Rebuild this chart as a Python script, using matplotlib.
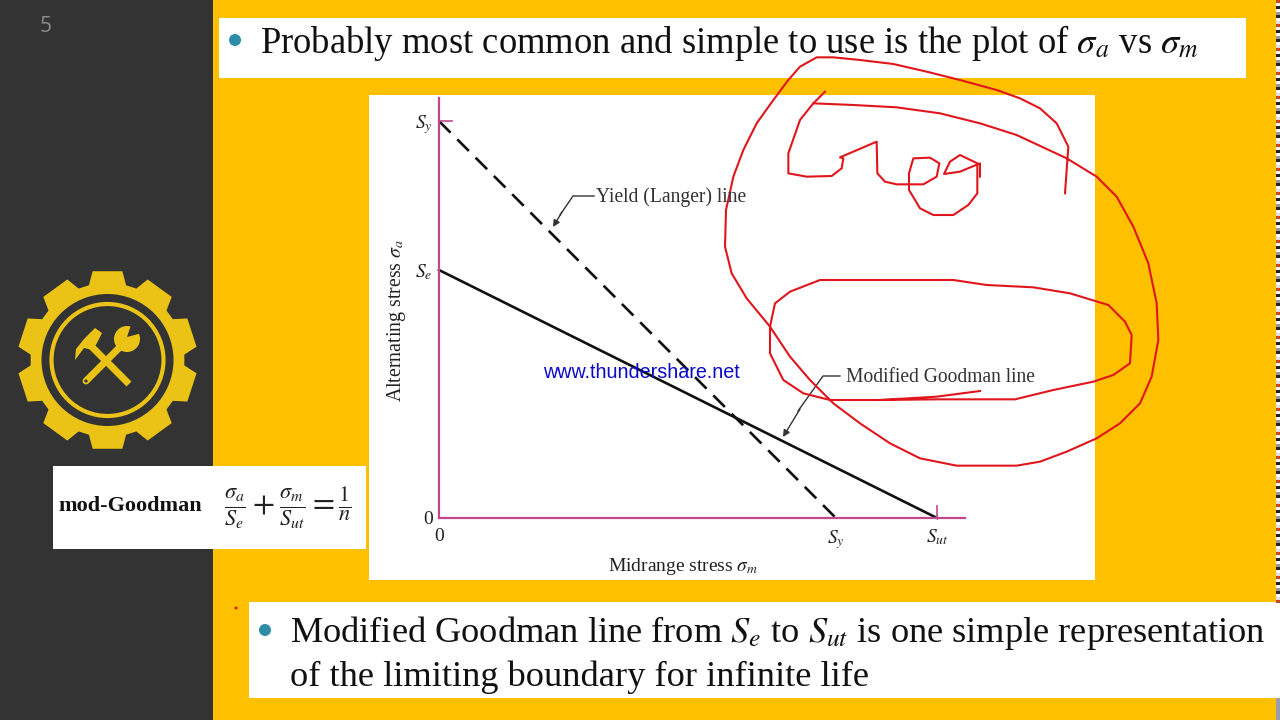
import numpy as np
import matplotlib
matplotlib.use("Agg")
import matplotlib.pyplot as plt
from matplotlib.patches import Rectangle, Circle, Polygon

plt.rcParams['font.family'] = ['Liberation Serif', 'DejaVu Sans']
plt.rcParams['mathtext.fontset'] = 'stix'

# stresses as a fraction of Sut
Sut = 1.0
Sy = 0.797
Se = 0.498
x_ticks = [0, Sy, Sut]
x_tick_labels = ['0', '$S_y$', '$S_{ut}$']
y_ticks = [0, Se, Sy]
y_tick_labels = ['0', '$S_e$', '$S_y$']
goodman_x = [0, Sut]
goodman_y = [Se, 0]
yield_x = [0, Sy]
yield_y = [Sy, 0]

# pen strokes, read in zoom pixels of the crop starting at (720, 50), 3x
stroke_big = [(1035,430),(1045,290),(1010,220),(960,175),(900,145),(830,120),(720,90),(620,65),(520,42),
              (420,30),(340,22),(290,22),(240,50),(205,90),(160,150),(110,220),(70,300),(40,380),(18,480),
              (15,590),(35,670),(80,745),(150,830),(210,920),(270,990),(340,1060),(420,1120),(510,1180),
              (600,1225),(710,1247),(890,1247),(960,1235),(1040,1205),(1130,1165),(1200,1120),(1260,1060),
              (1295,980),(1315,870),(1310,760),(1285,640),(1240,530),(1190,440),(1130,380),(1040,325),
              (890,255),(780,220),(660,190),(530,172),(400,165),(280,160)]
stroke_word = [(315,125),(280,160),(240,210),(205,310),(205,370),(260,380),(335,378),(365,355),(370,325),
               (360,322),(470,275),(472,370),(495,395),(530,403),(610,403),(650,380),(658,340),(630,323),
               (580,325),(567,370),(567,420),(600,475),(640,495),(700,495),(745,465),(772,430),(772,340),
               (720,315),(690,335),(672,372),(720,365),(780,340),(780,380)]
stroke_loop = [(780,1023),(650,1040),(480,1050),(330,1050),(250,1030),(190,990),(150,910),(150,830),
               (165,760),(210,725),(300,690),(700,690),(800,705),(940,712),(1050,730),(1165,765),
               (1215,815),(1235,855),(1230,940),(1180,975),(1120,995),(1000,1020),(885,1048),(650,1048),(480,1050)]

YELLOW = '#FFC000'
DARK = '#333333'
GEAR = '#EBC316'
PINK = '#C2488E'
RED = '#E0161C'
TEAL = '#2E8CA6'

fig = plt.figure(figsize=(12.8, 7.2), dpi=100, facecolor=YELLOW)

# slide background, in pixels
bg = fig.add_axes([0, 0, 1, 1], zorder=0)
bg.set_xlim(0, 1280)
bg.set_ylim(720, 0)
bg.axis('off')

def box(ax, x0, y0, x1, y1, color, z=1):
    ax.add_patch(Rectangle((x0, y0), x1 - x0, y1 - y0, fc=color, ec='none', zorder=z))

box(bg, 0, 0, 213, 720, DARK)
box(bg, 219, 18, 1246, 78, 'white')
box(bg, 369, 95, 1095, 580, 'white')
box(bg, 249, 602, 1280, 698, 'white')
box(bg, 53, 466, 366, 549, 'white', 3)

# noisy strip on the right edge
strip = ['#c8461e', 'white', '#222222', 'white', '#999999', '#222222', 'white', '#dddddd']
for i, y in enumerate(range(0, 602, 3)):
    box(bg, 1276, y, 1280, y + 3, strip[i % len(strip)], 2)
box(bg, 1276, 698, 1280, 720, '#9a9ab0', 2)

bg.text(46, 26, '5', color='#8a8a8a', fontsize=15, ha='center', va='center', family='Open Sans')

# gear logo
cx, cy = 107.5, 360
angles = np.arange(10) * 36.0
pts = []
for a in angles:
    for da, r in [(-14, 77), (-9.5, 90), (9.5, 90), (14, 77)]:
        t = np.radians(a + da - 90)
        pts.append((cx + r * np.cos(t), cy + r * np.sin(t)))
bg.add_patch(Polygon(pts, fc=GEAR, ec='none', zorder=2))
bg.add_patch(Circle((cx, cy), 66, fc=DARK, ec='none', zorder=2))
bg.add_patch(Circle((cx, cy), 56, fc='none', ec=GEAR, lw=3, zorder=2))
bg.plot([86, 124], [381, 343], color=GEAR, lw=5, solid_capstyle='round', zorder=3)
bg.plot([129, 88], [384, 343], color=GEAR, lw=5, solid_capstyle='butt', zorder=3)
bg.add_patch(Polygon([(75, 360), (76, 349), (84, 339), (95, 328), (102, 333), (98, 341), (93, 350),
                      (84, 348)], fc=GEAR, ec='none', zorder=3))
bg.add_patch(Circle((127, 339), 13, fc=GEAR, ec='none', zorder=3))
bg.add_patch(Polygon([(127, 337), (131, 325), (142, 333)], fc=DARK, ec='none', zorder=3))
bg.add_patch(Circle((86, 381), 1.6, fc=DARK, ec='none', zorder=4))

# slide text
bg.text(260, 43, r'Probably most common and simple to use is the plot of $\sigma_a$ vs $\sigma_m$',
        fontsize=26.4, color='#111111', va='center', zorder=4)
bg.text(290, 633, r'Modified Goodman line from $S_e$ to $S_{ut}$ is one simple representation',
        fontsize=26.2, color='#111111', va='center', zorder=4)
bg.text(290, 677, 'of the limiting boundary for infinite life',
        fontsize=26.2, color='#111111', va='center', zorder=4)
bg.add_patch(Circle((235, 40), 6, fc=TEAL, ec='none', zorder=4))
bg.add_patch(Circle((265, 630), 6, fc=TEAL, ec='none', zorder=4))
bg.add_patch(Circle((236, 608), 1.5, fc=RED, ec='none', zorder=4))
bg.text(58, 506, 'mod-Goodman', fontsize=16, fontweight='bold', color='#111111', va='center', zorder=4)
bg.text(224, 507, r'$\frac{\sigma_a}{S_e}+\frac{\sigma_m}{S_{ut}}=\frac{1}{n}$', fontsize=23,
        color='#222222', va='center', zorder=4)

# the chart itself
ax = fig.add_axes([439 / 1280, 202 / 720, 526 / 1280, 420 / 720], zorder=1)
ax.patch.set_alpha(0)
ax.set_xlim(0, 526 / 498)
ax.set_ylim(0, 420 / 498)
for s in ['top', 'right']:
    ax.spines[s].set_visible(False)
for s in ['left', 'bottom']:
    ax.spines[s].set_color(PINK)
    ax.spines[s].set_linewidth(1.6)
ax.plot(goodman_x, goodman_y, color='#111111', lw=1.9, clip_on=False)
ax.plot(yield_x, yield_y, color='#111111', lw=1.9, dashes=(6.2, 3.6), clip_on=False)
ax.plot([0, 0.026], [Sy, Sy], color=PINK, lw=1.2)
ax.plot([Sut, Sut], [0, 0.024], color=PINK, lw=1.2)
ax.set_xticks(x_ticks, x_tick_labels, fontsize=14, color='#222222')
ax.set_yticks(y_ticks, y_tick_labels, fontsize=14, color='#222222')
ax.tick_params(axis='x', length=0, pad=7)
ax.tick_params(axis='y', length=0, pad=4.5)
ax.set_xlabel(r'Midrange stress $\sigma_m$', fontsize=14, color='#222222')
ax.set_ylabel(r'Alternating stress $\sigma_a$', fontsize=14.3, color='#222222')
ax.xaxis.set_label_coords(0.464, -0.09)
ax.yaxis.set_label_coords(-0.058, 0.471)

# overlay: callouts, watermark and pen strokes
top = fig.add_axes([0, 0, 1, 1], zorder=2)
top.set_xlim(0, 1280)
top.set_ylim(720, 0)
top.axis('off')
top.plot([594, 573, 560], [196, 196, 215], color='#333333', lw=1)
top.annotate('', xy=(553, 227), xytext=(562, 212),
             arrowprops=dict(arrowstyle='-|>', color='#333333', lw=1, shrinkA=0, shrinkB=0))
top.text(596, 197, 'Yield (Langer) line', fontsize=14.1, color='#333333', va='center')
top.plot([840, 823, 798], [376, 376, 411], color='#333333', lw=1)
top.annotate('', xy=(783, 437), xytext=(800, 409),
             arrowprops=dict(arrowstyle='-|>', color='#333333', lw=1, shrinkA=0, shrinkB=0))
top.text(846, 377, 'Modified Goodman line', fontsize=14.05, color='#333333', va='center')
top.text(543, 372, 'www.thundershare.net', fontsize=14.2, color='#0A0AC8', va='center', family='Liberation Sans')

for stroke in [stroke_big, stroke_word, stroke_loop]:
    p = np.array(stroke, dtype=float)
    top.plot(720 + p[:, 0] / 3, 50 + p[:, 1] / 3, color=RED, lw=1.5, solid_joinstyle='round')

fig.savefig('out.png', dpi=100, facecolor=fig.get_facecolor())
